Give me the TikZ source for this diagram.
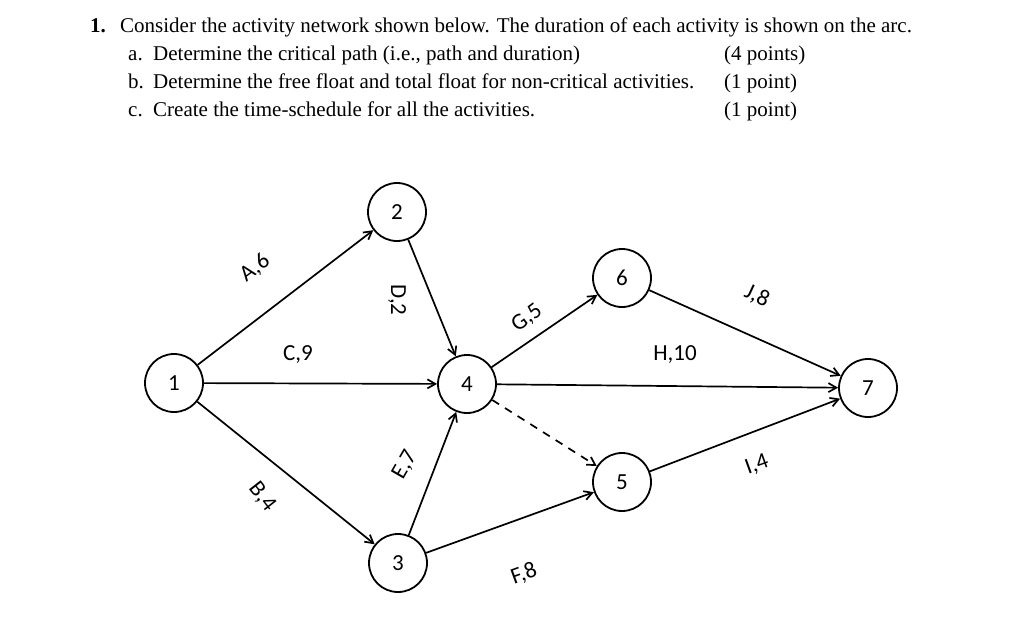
\documentclass[tikz,border=0pt]{standalone}
\usepackage{fontspec}
\setmainfont{Liberation Serif}
\newfontfamily\lab{Carlito}
\usetikzlibrary{arrows.meta}
\begin{document}
\begin{tikzpicture}[x=1pt,y=-1pt,
  nd/.style={circle,draw,line width=1.8pt,minimum size=58pt,inner sep=0pt,font=\lab\fontsize{23}{25}\selectfont},
  ed/.style={line width=1.7pt,-{Straight Barb[length=8pt,width=9pt]}},
  lb/.style={font=\lab\fontsize{23}{25}\selectfont,inner sep=1pt},
  tx/.style={anchor=base west,font=\fontsize{21}{24}\selectfont,inner sep=0pt}]
\useasboundingbox (0,0) rectangle (1024,616);
\node[tx] (h0) at (90,32) {\textbf{1.}};
\node[tx] (h1) at (120,32) {Consider the activity network shown below. The duration of each activity is shown on the arc.};
\node[tx] (ha) at (128,60) {a.};
\node[tx] (ta) at (153,60) {Determine the critical path (i.e., path and duration)};
\node[tx] (pa) at (724,60) {(4 points)};
\node[tx] (hb) at (128,88) {b.};
\node[tx] (tb) at (153,88) {Determine the free float and total float for non-critical activities.};
\node[tx] (pb) at (724,88) {(1 point)};
\node[tx] (hc) at (128,116) {c.};
\node[tx] (tc) at (153,116) {Create the time-schedule for all the activities.};
\node[tx] (pc) at (724,116) {(1 point)};
\node[nd] (n1) at (174,383) {1};
\node[nd] (n2) at (397,212) {2};
\node[nd] (n4) at (467,384) {4};
\node[nd] (n6) at (622,278) {6};
\node[nd] (n7) at (868,388) {7};
\node[nd] (n5) at (622,482) {5};
\node[nd] (n3) at (398,563) {3};
\draw[ed] (n1) -- (n2);
\draw[ed] (n1) -- (n4);
\draw[ed] (n1) -- (n3);
\draw[ed] (n2) -- (n4);
\draw[ed] (n3) -- (n4);
\draw[ed] (n4) -- (n6);
\draw[ed] (n4) -- (n7);
\draw[ed,dash pattern=on 8pt off 7pt] (n4) -- (n5);
\draw[ed] (n3) -- (n5);
\draw[ed] (n6) -- (n7);
\draw[ed] (n5) -- (n7);
\node[lb,rotate=37] (la) at (255,268) {A,6};
\node[lb,rotate=-90] (ld) at (397,300) {D,2};
\node[lb,rotate=60] (le) at (405,465) {E,7};
\node[lb,rotate=-52] (lbb) at (262,497) {B,4};
\node[lb,rotate=37] (lg) at (527,318) {G,5};
\node[lb,rotate=-25] (lj) at (757,296) {J,8};
\node[lb,rotate=20] (li) at (757,465) {I,4};
\node[lb,rotate=20] (lf) at (524,574) {F,8};
\node[lb] (lc) at (298,355) {C,9};
\node[lb] (lh) at (675,355) {H,10};
\end{tikzpicture}
\end{document}
